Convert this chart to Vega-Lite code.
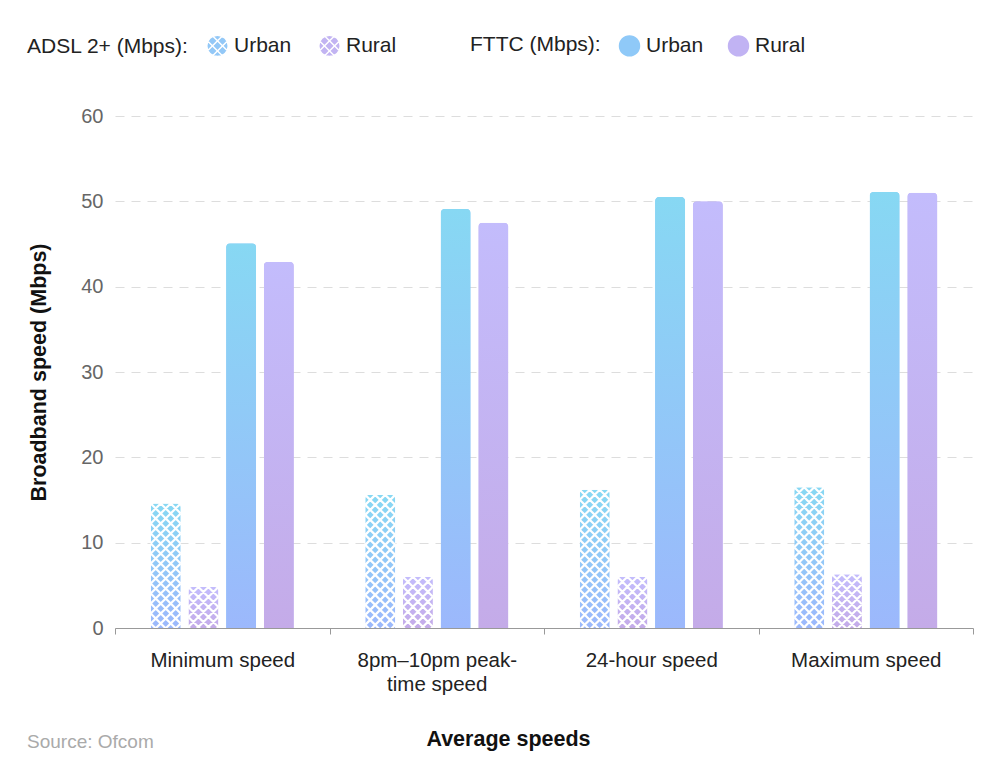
{
  "$schema": "https://vega.github.io/schema/vega-lite/v6.json",
  "width": 858,
  "height": 512,
  "autosize": {"type": "none"},
  "padding": {"left": 115, "top": 116, "right": 27, "bottom": 150},
  "background": "white",
  "config": {"font": "Liberation Sans", "view": {"stroke": null}},
  "title": {"text": "Source: Ofcom", "orient": "bottom", "anchor": "start", "frame": "bounds", "fontSize": 19, "fontWeight": "normal", "color": "#aaaaaa", "offset": -17},
  "data": {"values": [
    {"speed": "Minimum speed", "tech": "ADSL", "area": "Urban", "series": "ADSL Urban", "value": 14.6},
    {"speed": "Minimum speed", "tech": "ADSL", "area": "Rural", "series": "ADSL Rural", "value": 4.8},
    {"speed": "Minimum speed", "tech": "FTTC", "area": "Urban", "series": "FTTC Urban", "value": 45.1},
    {"speed": "Minimum speed", "tech": "FTTC", "area": "Rural", "series": "FTTC Rural", "value": 42.9},
    {"speed": "8pm–10pm peak-time speed", "tech": "ADSL", "area": "Urban", "series": "ADSL Urban", "value": 15.6},
    {"speed": "8pm–10pm peak-time speed", "tech": "ADSL", "area": "Rural", "series": "ADSL Rural", "value": 6.0},
    {"speed": "8pm–10pm peak-time speed", "tech": "FTTC", "area": "Urban", "series": "FTTC Urban", "value": 49.1},
    {"speed": "8pm–10pm peak-time speed", "tech": "FTTC", "area": "Rural", "series": "FTTC Rural", "value": 47.5},
    {"speed": "24-hour speed", "tech": "ADSL", "area": "Urban", "series": "ADSL Urban", "value": 16.2},
    {"speed": "24-hour speed", "tech": "ADSL", "area": "Rural", "series": "ADSL Rural", "value": 6.0},
    {"speed": "24-hour speed", "tech": "FTTC", "area": "Urban", "series": "FTTC Urban", "value": 50.5},
    {"speed": "24-hour speed", "tech": "FTTC", "area": "Rural", "series": "FTTC Rural", "value": 50.0},
    {"speed": "Maximum speed", "tech": "ADSL", "area": "Urban", "series": "ADSL Urban", "value": 16.5},
    {"speed": "Maximum speed", "tech": "ADSL", "area": "Rural", "series": "ADSL Rural", "value": 6.3},
    {"speed": "Maximum speed", "tech": "FTTC", "area": "Urban", "series": "FTTC Urban", "value": 51.1},
    {"speed": "Maximum speed", "tech": "FTTC", "area": "Rural", "series": "FTTC Rural", "value": 51.0}
  ]},
  "encoding": {
    "x": {
      "field": "speed", "type": "nominal", "title": "Average speeds",
      "scale": {"domain": ["Minimum speed", "8pm–10pm peak-time speed", "24-hour speed", "Maximum speed"], "paddingInner": 0, "paddingOuter": 0},
      "axis": {
        "labelAngle": 0, "labelFontSize": 20.5, "labelColor": "#222222", "labelPadding": 16, "labelLineHeight": 24, "labelBaseline": "top",
        "labelExpr": "datum.label == '8pm–10pm peak-time speed' ? ['8pm–10pm peak-', 'time speed'] : datum.label",
        "tickBand": "extent", "tickSize": 6, "tickColor": "#999999", "domainColor": "#999999", "domainWidth": 1,
        "grid": false,
        "titleFontSize": 21.5, "titleFontWeight": "bold", "titleColor": "#111111", "titlePadding": 34, "titleX": 393, "titleAnchor": "middle"
      }
    },
    "xOffset": {
      "field": "series", "type": "nominal",
      "scale": {"domain": ["ADSL Urban", "ADSL Rural", "FTTC Urban", "FTTC Rural"], "paddingInner": 0.204, "paddingOuter": 0.947}
    },
    "y": {
      "field": "value", "type": "quantitative", "title": "Broadband speed (Mbps)",
      "scale": {"domain": [0, 60]},
      "axis": {
        "values": [0, 10, 20, 30, 40, 50, 60], "labelFontSize": 20, "labelColor": "#666666", "labelPadding": 12,
        "ticks": false, "domain": false, "grid": true, "gridColor": "#dddddd", "gridDash": [9, 7], "gridWidth": 1,
        "titleFontSize": 21.5, "titleFontWeight": "bold", "titleColor": "#111111", "titlePadding": 30
      }
    }
  },
  "layer": [
    {
      "transform": [{"filter": "datum.tech == 'FTTC'"}],
      "mark": {"type": "bar", "cornerRadiusEnd": 4},
      "encoding": {
        "color": {
          "field": "area", "type": "nominal", "sort": ["Urban", "Rural"], "title": "FTTC (Mbps):",
          "scale": {"range": ["#8fc9f8", "#c1b3f3"]},
          "legend": {
            "orient": "none", "legendX": 355, "legendY": -82, "direction": "horizontal", "titleOrient": "left",
            "titleFontSize": 21, "titleFontWeight": "normal", "titleColor": "#222222", "titlePadding": 17,
            "labelFontSize": 21, "labelColor": "#222222", "labelOffset": 5, "columnPadding": 23,
            "symbolType": "circle", "symbolSize": 460, "symbolOpacity": 1
          }
        }
      }
    },
    {
      "transform": [{"filter": "datum.area == 'Urban'"}],
      "mark": {"type": "bar", "cornerRadiusEnd": 4,
        "fill": {"gradient": "linear", "x1": 0, "y1": 0, "x2": 0, "y2": 1, "stops": [{"offset": 0, "color": "#87d8f3"}, {"offset": 1, "color": "#9cb8fc"}]}}
    },
    {
      "transform": [{"filter": "datum.area == 'Rural'"}],
      "mark": {"type": "bar", "cornerRadiusEnd": 4,
        "fill": {"gradient": "linear", "x1": 0, "y1": 0, "x2": 0, "y2": 1, "stops": [{"offset": 0, "color": "#c3bcfc"}, {"offset": 1, "color": "#c4abe8"}]}}
    },
    {
      "transform": [{"filter": "datum.tech == 'ADSL'"}],
      "mark": {
        "type": "point", "filled": true, "size": 100, "stroke": "white", "strokeWidth": 2.2, "opacity": 1, "clip": true,
        "shape": "M1,0L3,2M-1,0L3,4M-3,0L3,6M-3,2L3,8M-3,4L3,10M-3,6L3,12M-3,8L3,14M-3,10L3,16M-3,12L3,18M-3,14L3,20M-3,16L3,22M-3,18L3,24M-3,20L3,26M-3,22L3,28M-3,24L3,30M-3,26L3,32M-3,28L3,34M-3,30L3,36M-1,0L-3,2M1,0L-3,4M3,0L-3,6M3,2L-3,8M3,4L-3,10M3,6L-3,12M3,8L-3,14M3,10L-3,16M3,12L-3,18M3,14L-3,20M3,16L-3,22M3,18L-3,24M3,20L-3,26M3,22L-3,28M3,24L-3,30M3,26L-3,32M3,28L-3,34M3,30L-3,36"
      },
      "encoding": {
        "fill": {
          "field": "area", "type": "nominal", "sort": ["Urban", "Rural"], "title": "ADSL 2+ (Mbps):",
          "scale": {"range": ["#93c8f7", "#c2b4f2"]},
          "legend": {
            "orient": "none", "legendX": -88, "legendY": -82, "direction": "horizontal", "titleOrient": "left",
            "titleFontSize": 21, "titleFontWeight": "normal", "titleColor": "#222222", "titlePadding": 17,
            "labelFontSize": 21, "labelColor": "#222222", "labelOffset": 5, "columnPadding": 23,
            "symbolType": "M-1,0A1,1,0,1,1,1,0A1,1,0,1,1,-1,0ZM-0.9035,-0.4285L0.4285,0.9035M-0.4285,-0.9035L0.9035,0.4285M0.9035,-0.4285L-0.4285,0.9035M0.4285,-0.9035L-0.9035,0.4285",
            "symbolSize": 460, "symbolOpacity": 1, "symbolStrokeColor": "white", "symbolStrokeWidth": 1.5
          }
        }
      }
    }
  ]
}
